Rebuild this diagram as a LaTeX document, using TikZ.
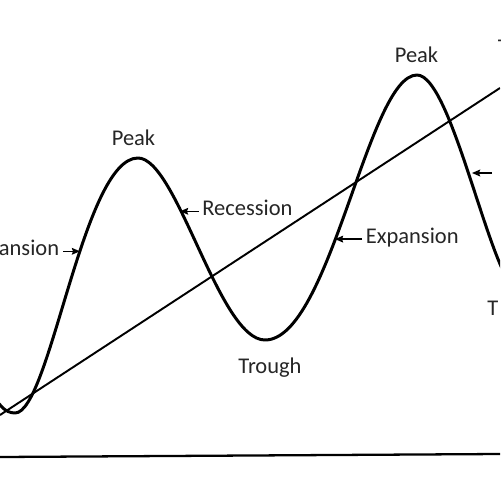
\documentclass[tikz,border=0pt]{standalone}
\usepackage{fontspec}
\setmainfont{Carlito}
\usetikzlibrary{arrows.meta}
\begin{document}
\begin{tikzpicture}[x=0.02cm,y=-0.02cm,
  cyc/.style={line width=1.7pt,line join=round},
  trendline/.style={line width=1.1pt},
  axisline/.style={line width=1.3pt},
  arr/.style={line width=0.85pt,-{Stealth[length=4.6pt,width=3.8pt,inset=0.6pt]}},
  lbl/.style={inner xsep=2pt,inner ysep=0pt,font=\fontsize{12.8}{15}\selectfont,text=black!85}]
\useasboundingbox (0,0) rectangle (500,500);
\clip (0,0) rectangle (500,500);
\fill[white] (0,0) rectangle (500,500);
% baseline axis
\draw[axisline] (0,457) -- (500,454);
% trend line
\draw[trendline] (0,415) -- (500,88);
% business cycle
\draw[cyc] (-10,388) .. controls (-2,405) and (5,413) .. (15,413)
  .. controls (50,413) and (83,158) .. (138,158)
  .. controls (177,158) and (219,340) .. (265,340)
  .. controls (330,340) and (368,75) .. (417,75)
  .. controls (453,75) and (493,292) .. (520,292);
% labels
\node[lbl,anchor=base] (peakA) at (133.5,145) {Peak};
\node[lbl,anchor=base] (peakB) at (416.5,63) {Peak};
\node[lbl,anchor=base] (troughA) at (270,373) {Trough};
\node[lbl,anchor=base west,inner xsep=0pt] (troughB) at (487,315) {T};
\node[lbl,anchor=base west,inner xsep=0pt] (trendT) at (497.5,55) {T};
\node[lbl,anchor=base east] (expA) at (63,255.5) {ansion};
\node[lbl,anchor=base west] (recA) at (198.5,215.5) {Recession};
\node[lbl,anchor=base west] (expB) at (362,243.3) {Expansion};
% arrow targets on the curve
\coordinate (tA) at (80,250);
\coordinate (tB) at (180,210);
\coordinate (tC) at (335,238);
\coordinate (tD) at (472,173);
\coordinate (rR) at (492,173);
\draw[arr] (expA.mid east) -- (expA.mid east -| tA);
\draw[arr] (recA.mid west) -- (recA.mid west -| tB);
\draw[arr] (expB.mid west) -- (expB.mid west -| tC);
\draw[arr] (rR) -- (tD);
\end{tikzpicture}
\end{document}
